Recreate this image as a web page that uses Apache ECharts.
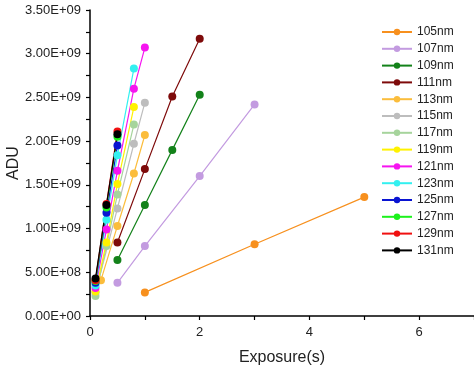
<!DOCTYPE html>
<html><head><meta charset="utf-8">
<script src="https://cdn.jsdelivr.net/npm/echarts@6/dist/echarts.min.js"></script>
<style>html,body{margin:0;padding:0;background:#fff}#c{width:474px;height:367px}</style>
</head><body><div id="c"></div>
<script>
var names = ["105nm","107nm","109nm","111nm","113nm","115nm","117nm","119nm","121nm","123nm","125nm","127nm","129nm","131nm"];
var colors = ["#F7901E","#C39BE0","#13821A","#7E0A0A","#FBBD3C","#BDBDBD","#A6D49C","#FFF200","#F614F0","#33F0F0","#0A14D2","#1CF21C","#F01010","#000000"];
var x105 = [1, 3, 5];              var y105 = [0.27e9, 0.82e9, 1.36e9];
var x107 = [0.5, 1, 2, 3];         var y107 = [0.38e9, 0.80e9, 1.60e9, 2.42e9];
var x109 = [0.5, 1, 1.5, 2];       var y109 = [0.64e9, 1.27e9, 1.90e9, 2.53e9];
var x111 = [0.5, 1, 1.5, 2];       var y111 = [0.84e9, 1.68e9, 2.51e9, 3.17e9];
var x113 = [0.2, 0.5, 0.8, 1];     var y113 = [0.41e9, 1.03e9, 1.63e9, 2.07e9];
var x115 = [0.1, 0.5, 0.8, 1];     var y115 = [0.27e9, 1.23e9, 1.97e9, 2.44e9];
var x117 = [0.1, 0.3, 0.5, 0.8];   var y117 = [0.23e9, 0.80e9, 1.39e9, 2.19e9];
var x119 = [0.1, 0.3, 0.5, 0.8];   var y119 = [0.28e9, 0.84e9, 1.51e9, 2.39e9];
var x121 = [0.1, 0.3, 0.5, 0.8, 1];var y121 = [0.32e9, 0.99e9, 1.66e9, 2.60e9, 3.07e9];
var x123 = [0.1, 0.3, 0.5, 0.8];   var y123 = [0.35e9, 1.10e9, 1.84e9, 2.83e9];
var x125 = [0.1, 0.3, 0.5];        var y125 = [0.38e9, 1.18e9, 1.95e9];
var x127 = [0.1, 0.3, 0.5];        var y127 = [0.40e9, 1.24e9, 2.05e9];
var x129 = [0.1, 0.3, 0.5];        var y129 = [0.41e9, 1.28e9, 2.11e9];
var x131 = [0.1, 0.3, 0.5];        var y131 = [0.43e9, 1.27e9, 2.08e9];
var xs = [x105,x107,x109,x111,x113,x115,x117,x119,x121,x123,x125,x127,x129,x131];
var ys = [y105,y107,y109,y111,y113,y115,y117,y119,y121,y123,y125,y127,y129,y131];
var xTickLabels = ["0","2","4","6"];

function fmtE(v){
  if (Math.abs(v) < 1e-9) return "0.00E+00";
  var e = Math.floor(Math.log10(Math.abs(v)) + 1e-9);
  var m = v / Math.pow(10, e);
  if (Math.abs(m) >= 9.995) { m /= 10; e += 1; }
  return m.toFixed(2) + "E+" + (e < 10 ? "0" + e : "" + e);
}

var font = "Liberation Sans, Arial, sans-serif";
var series = names.map(function(n, i){
  return {
    name: n, type: 'line', symbol: 'circle', symbolSize: 8,
    data: xs[i].map(function(x, j){ return [x, ys[i][j]]; }),
    itemStyle: { color: colors[i] },
    lineStyle: { color: colors[i], width: 1.2 },
    emphasis: { disabled: true }, animation: false
  };
});

var chart = echarts.init(document.getElementById('c'), null, {renderer: 'canvas'});
chart.setOption({
  backgroundColor: '#fff',
  animation: false,
  textStyle: { fontFamily: font },
  grid: { left: 90, right: 0, top: 10, bottom: 51, containLabel: false, outerBoundsMode: 'none' },
  legend: {
    orient: 'vertical', left: 376, top: 21,
    itemWidth: 30, itemHeight: 8, itemGap: 4.8,
    textStyle: { fontFamily: font, fontSize: 12, color: '#222' },
    data: names
  },
  xAxis: {
    type: 'value', min: 0, max: 7, interval: 1,
    name: 'Exposure(s)', nameLocation: 'middle', nameGap: 34,
    nameTextStyle: { fontFamily: font, fontSize: 16, color: '#222' },
    axisLine: { show: true, onZero: false, lineStyle: { color: '#000', width: 1.5 } },
    axisTick: { show: true, inside: false, length: 4, lineStyle: { color: '#000', width: 1.2 } },
    axisLabel: { fontFamily: font, fontSize: 13, color: '#222', margin: 10,
      formatter: function(v){ return xTickLabels.indexOf(String(v)) >= 0 ? String(v) : ''; } },
    splitLine: { show: false }
  },
  yAxis: {
    type: 'value', min: 0, max: 3.5e9, interval: 2.5e8,
    name: 'ADU', nameLocation: 'middle', nameGap: 68, nameRotate: 90, nameMoveOverlap: false,
    nameTextStyle: { fontFamily: font, fontSize: 16, color: '#222' },
    axisLine: { show: true, onZero: false, lineStyle: { color: '#000', width: 1.5 } },
    axisTick: { show: true, inside: false, length: 4, lineStyle: { color: '#000', width: 1.2 } },
    axisLabel: { fontFamily: font, fontSize: 13, color: '#222', margin: 9,
      formatter: function(v){ return (Math.round(v / 2.5e8) % 2 === 0) ? fmtE(v) : ''; } },
    splitLine: { show: false }
  },
  series: series
});
</script>
</body></html>
